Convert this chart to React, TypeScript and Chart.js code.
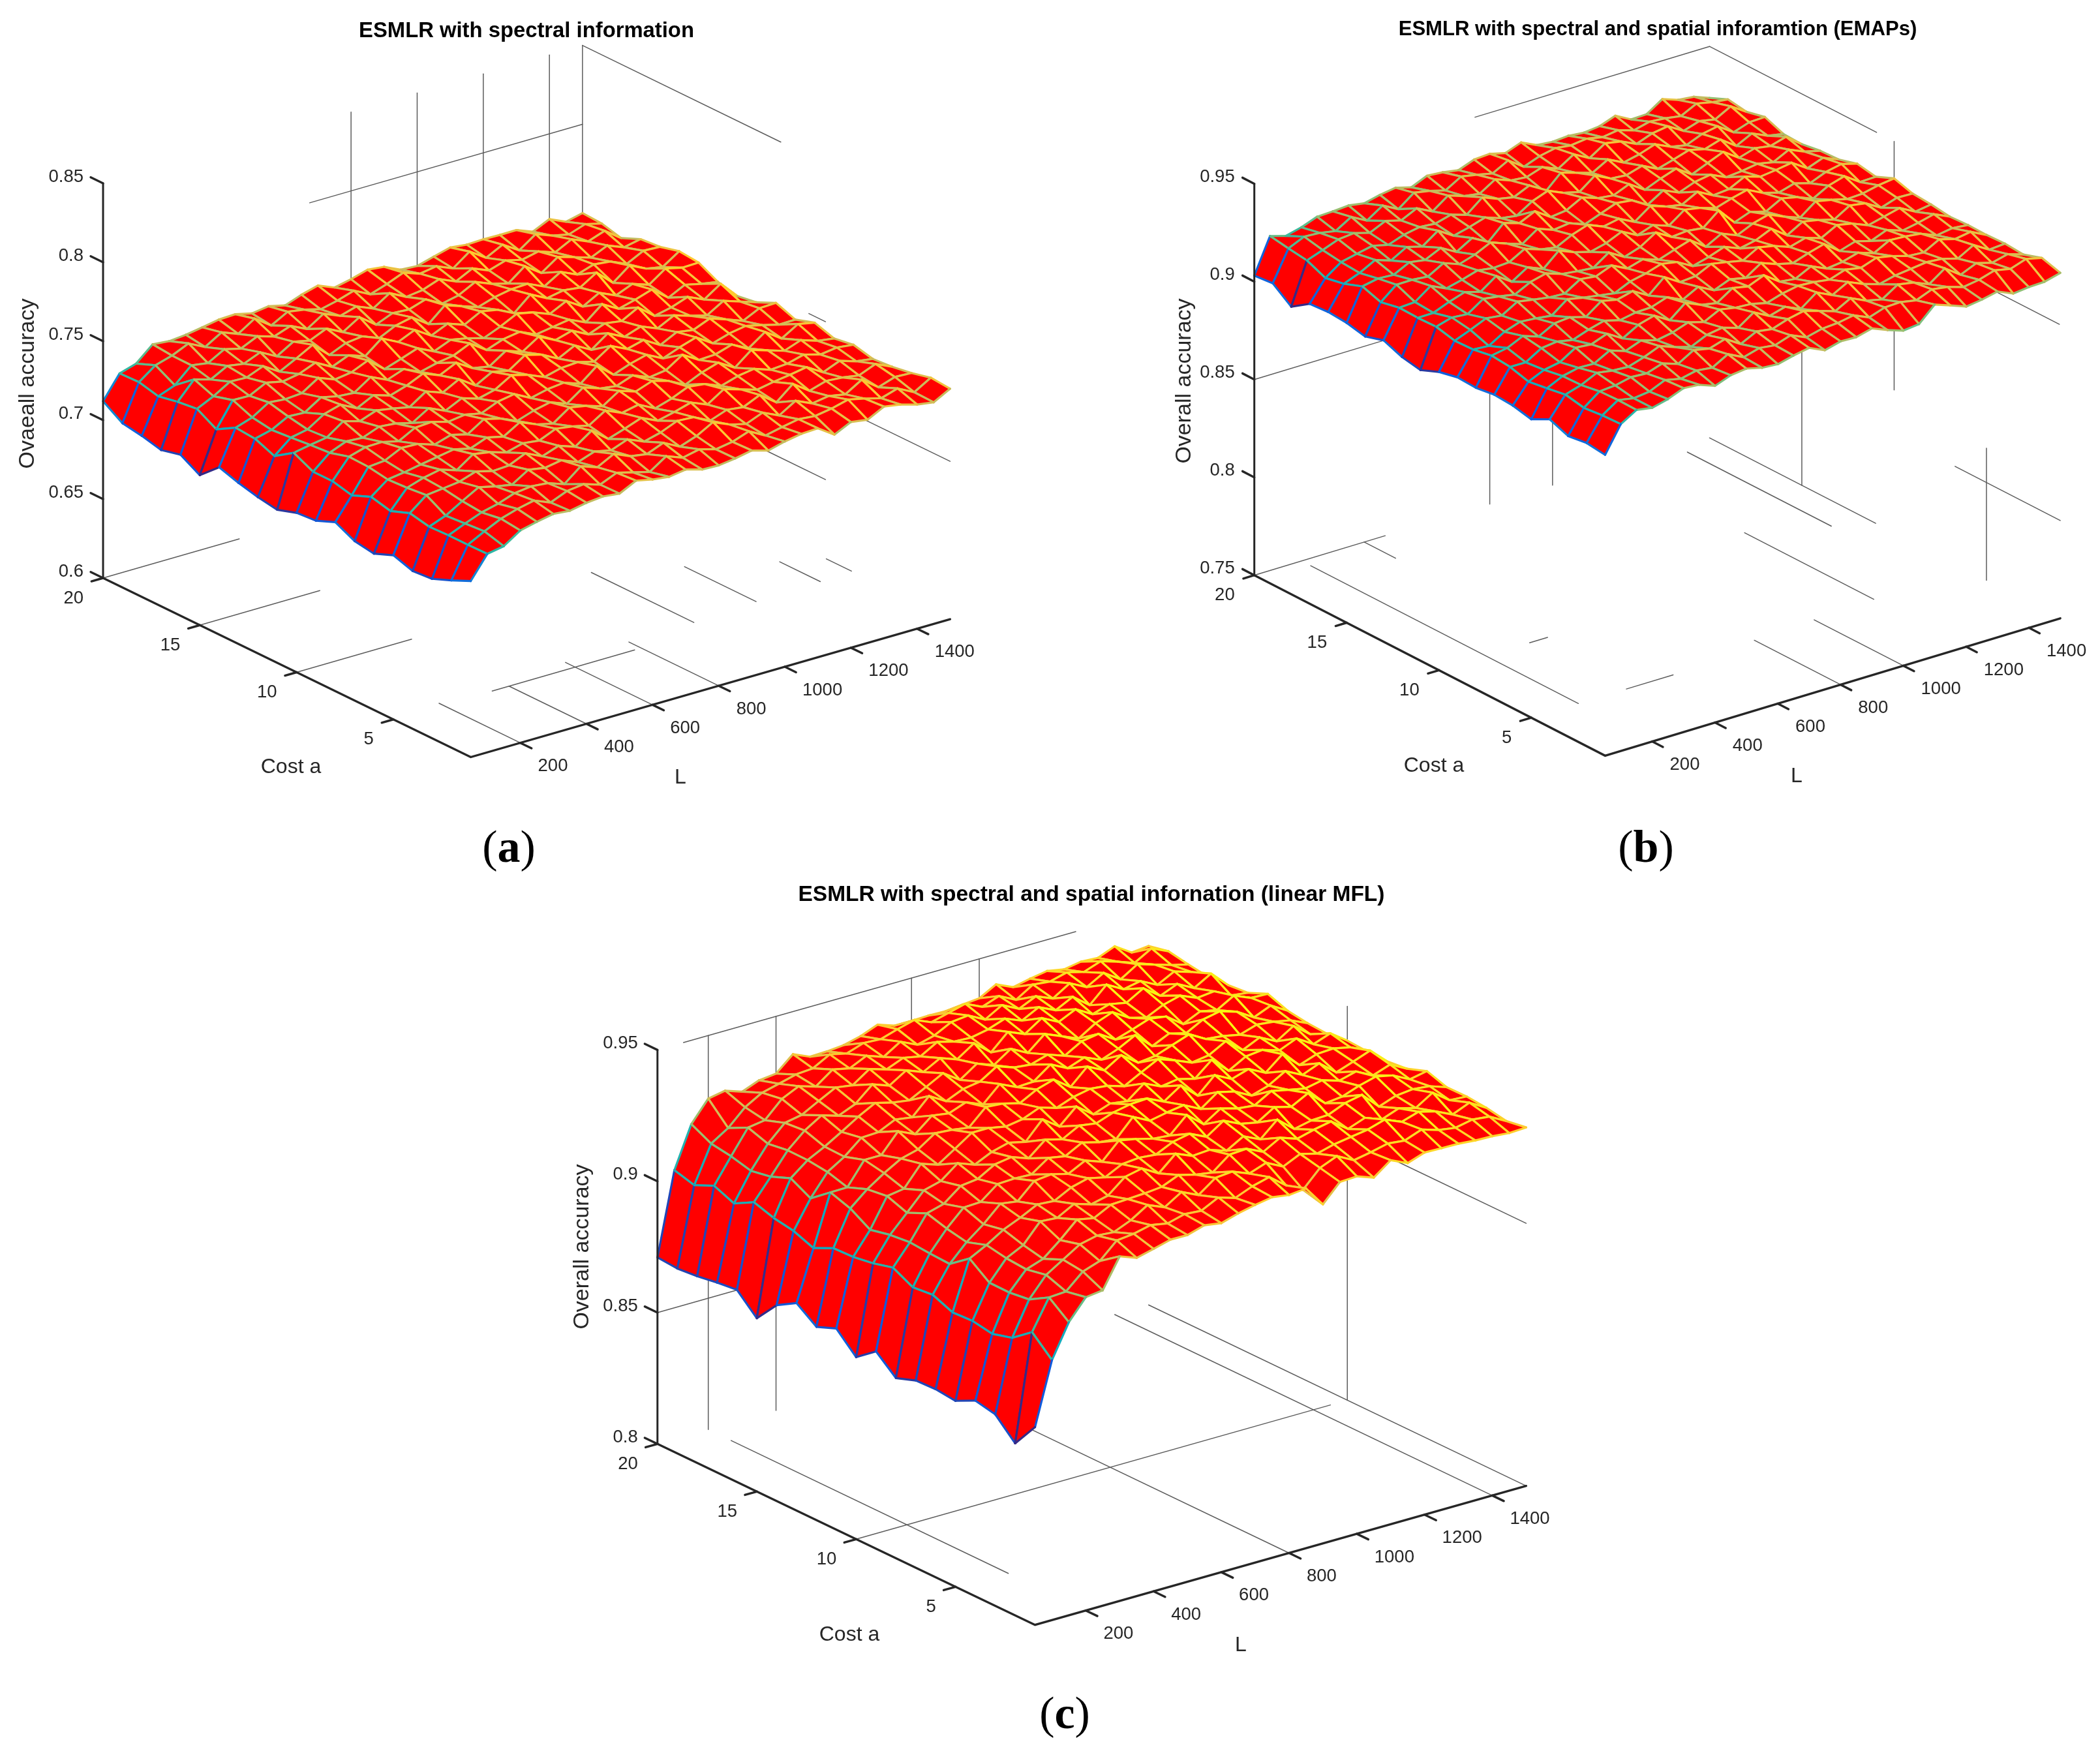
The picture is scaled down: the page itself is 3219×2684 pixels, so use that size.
import { useEffect, useRef } from 'react'
import { Chart, registerables } from 'chart.js'

Chart.register(...registerables);

// cost a runs across each row, L runs down the rows; accuracy is stored x 10000
const costValues = [20, 19, 18, 17, 16, 15, 14, 13, 12, 11, 10, 9, 8, 7, 6, 5, 4, 3, 2, 1];
const lValues = [50, 100, 150, 200, 250, 300, 350, 400, 450, 500, 550, 600, 650, 700, 750, 800, 850, 900, 950, 1000, 1050, 1100, 1150, 1200, 1250, 1300, 1350, 1400, 1450, 1500];
const costTicks = [20, 15, 10, 5];
const lTicks = [200, 400, 600, 800, 1000, 1200, 1400];

const accuracyA = [
  [7120, 7040, 7020, 6990, 7020, 6950, 7060, 7020, 6990, 6970, 7010, 7020, 7070, 7010, 6990, 7040, 7000, 7010, 7060, 7115],
  [7266, 7270, 7240, 7265, 7280, 7210, 7280, 7270, 7220, 7300, 7240, 7240, 7210, 7260, 7230, 7276, 7250, 7255, 7255, 7257],
  [7298, 7347, 7280, 7377, 7330, 7365, 7315, 7296, 7307, 7320, 7330, 7365, 7360, 7340, 7347, 7360, 7290, 7300, 7310, 7276],
  [7390, 7378, 7376, 7346, 7392, 7362, 7380, 7351, 7328, 7337, 7372, 7395, 7370, 7355, 7380, 7372, 7352, 7340, 7360, 7345],
  [7380, 7425, 7360, 7402, 7388, 7415, 7370, 7345, 7395, 7410, 7365, 7398, 7420, 7375, 7402, 7385, 7410, 7365, 7392, 7370],
  [7390, 7372, 7418, 7385, 7430, 7392, 7378, 7412, 7425, 7380, 7405, 7372, 7415, 7392, 7368, 7420, 7385, 7402, 7415, 7390],
  [7407, 7435, 7392, 7428, 7365, 7410, 7445, 7388, 7372, 7418, 7395, 7428, 7380, 7410, 7440, 7392, 7365, 7415, 7372, 7380],
  [7426, 7395, 7440, 7372, 7418, 7452, 7405, 7380, 7425, 7400, 7368, 7435, 7412, 7385, 7422, 7398, 7430, 7405, 7415, 7400],
  [7430, 7462, 7408, 7435, 7475, 7395, 7420, 7450, 7392, 7378, 7432, 7405, 7385, 7425, 7390, 7445, 7412, 7368, 7428, 7410],
  [7405, 7388, 7445, 7412, 7380, 7438, 7465, 7402, 7425, 7448, 7385, 7420, 7452, 7400, 7418, 7395, 7430, 7452, 7395, 7398],
  [7420, 7445, 7395, 7458, 7425, 7402, 7380, 7440, 7472, 7410, 7435, 7398, 7425, 7462, 7405, 7432, 7388, 7415, 7440, 7450],
  [7395, 7428, 7462, 7405, 7438, 7485, 7415, 7392, 7430, 7465, 7402, 7442, 7380, 7418, 7450, 7395, 7425, 7470, 7412, 7427],
  [7433, 7400, 7418, 7470, 7395, 7432, 7452, 7418, 7480, 7395, 7428, 7460, 7415, 7392, 7435, 7468, 7402, 7425, 7385, 7414],
  [7461, 7425, 7448, 7392, 7445, 7478, 7402, 7435, 7415, 7452, 7490, 7405, 7438, 7465, 7410, 7385, 7442, 7408, 7455, 7430],
  [7418, 7458, 7405, 7435, 7468, 7412, 7445, 7482, 7395, 7428, 7462, 7430, 7398, 7445, 7475, 7420, 7398, 7450, 7415, 7400],
  [7441, 7405, 7472, 7428, 7395, 7458, 7425, 7410, 7465, 7498, 7418, 7442, 7472, 7412, 7430, 7458, 7425, 7395, 7438, 7396],
  [7471, 7440, 7418, 7462, 7485, 7420, 7395, 7448, 7428, 7470, 7445, 7405, 7435, 7480, 7452, 7410, 7468, 7432, 7408, 7410],
  [7459, 7482, 7432, 7405, 7448, 7475, 7438, 7465, 7495, 7415, 7452, 7488, 7420, 7445, 7398, 7435, 7462, 7490, 7425, 7430],
  [7411, 7445, 7470, 7428, 7412, 7455, 7490, 7418, 7442, 7468, 7425, 7402, 7458, 7482, 7430, 7465, 7410, 7445, 7462, 7400],
  [7404, 7462, 7425, 7482, 7445, 7402, 7468, 7435, 7472, 7410, 7495, 7440, 7415, 7452, 7475, 7422, 7448, 7418, 7405, 7427],
  [7433, 7418, 7478, 7440, 7465, 7492, 7428, 7452, 7418, 7485, 7445, 7468, 7430, 7398, 7462, 7490, 7435, 7460, 7428, 7445],
  [7461, 7495, 7435, 7412, 7470, 7438, 7480, 7405, 7458, 7432, 7472, 7415, 7498, 7445, 7420, 7458, 7482, 7412, 7448, 7450],
  [7449, 7425, 7468, 7492, 7422, 7458, 7415, 7490, 7442, 7468, 7410, 7455, 7435, 7478, 7452, 7425, 7405, 7475, 7438, 7380],
  [7453, 7478, 7442, 7418, 7485, 7445, 7472, 7430, 7498, 7425, 7462, 7488, 7440, 7415, 7468, 7445, 7492, 7428, 7455, 7430],
  [7450, 7412, 7465, 7490, 7438, 7510, 7425, 7458, 7415, 7478, 7445, 7420, 7472, 7498, 7432, 7460, 7418, 7445, 7482, 7414],
  [7451, 7485, 7428, 7458, 7472, 7415, 7468, 7492, 7438, 7445, 7488, 7452, 7418, 7465, 7440, 7478, 7450, 7425, 7458, 7467],
  [7411, 7445, 7482, 7425, 7460, 7495, 7432, 7410, 7475, 7418, 7452, 7470, 7492, 7432, 7468, 7415, 7442, 7488, 7430, 7450],
  [7460, 7422, 7438, 7472, 7415, 7445, 7505, 7462, 7428, 7480, 7412, 7445, 7420, 7470, 7438, 7458, 7425, 7410, 7462, 7420],
  [7413, 7458, 7475, 7430, 7468, 7425, 7480, 7438, 7498, 7445, 7462, 7418, 7482, 7435, 7452, 7425, 7468, 7445, 7408, 7404],
  [7438, 7431, 7399, 7452, 7463, 7495, 7483, 7420, 7390, 7410, 7466, 7420, 7460, 7420, 7440, 7410, 7420, 7440, 7470, 7460],
];

const accuracyB = [
  [9031, 9040, 8969, 9032, 9039, 9032, 9011, 9040, 9003, 8985, 9024, 9045, 9040, 9053, 9046, 9025, 9073, 9036, 9049, 9037],
  [9209, 9194, 9181, 9140, 9159, 9194, 9162, 9182, 9179, 9182, 9159, 9163, 9180, 9171, 9144, 9159, 9175, 9156, 9166, 9170],
  [9185, 9230, 9210, 9197, 9190, 9210, 9227, 9187, 9180, 9205, 9190, 9157, 9195, 9170, 9180, 9197, 9200, 9216, 9220, 9218],
  [9205, 9225, 9240, 9215, 9232, 9205, 9228, 9245, 9212, 9198, 9225, 9205, 9232, 9218, 9195, 9215, 9238, 9222, 9205, 9205],
  [9235, 9210, 9248, 9232, 9205, 9245, 9220, 9208, 9238, 9252, 9215, 9232, 9205, 9228, 9245, 9212, 9225, 9240, 9215, 9225],
  [9238, 9258, 9225, 9212, 9250, 9232, 9265, 9228, 9215, 9240, 9262, 9225, 9248, 9212, 9238, 9255, 9220, 9235, 9250, 9257],
  [9244, 9215, 9262, 9240, 9228, 9270, 9235, 9252, 9272, 9225, 9248, 9215, 9255, 9240, 9268, 9228, 9245, 9262, 9232, 9250],
  [9231, 9268, 9240, 9255, 9285, 9225, 9260, 9240, 9218, 9265, 9235, 9275, 9232, 9262, 9220, 9258, 9278, 9235, 9250, 9220],
  [9250, 9225, 9278, 9248, 9235, 9272, 9298, 9245, 9268, 9285, 9230, 9258, 9290, 9240, 9265, 9235, 9248, 9282, 9240, 9250],
  [9262, 9285, 9238, 9270, 9255, 9225, 9268, 9290, 9235, 9258, 9280, 9245, 9272, 9255, 9288, 9250, 9225, 9265, 9285, 9260],
  [9240, 9270, 9295, 9245, 9280, 9300, 9240, 9262, 9305, 9248, 9270, 9232, 9292, 9258, 9240, 9278, 9262, 9290, 9245, 9240],
  [9275, 9248, 9268, 9310, 9252, 9275, 9295, 9248, 9272, 9240, 9302, 9268, 9245, 9285, 9305, 9255, 9275, 9240, 9268, 9234],
  [9268, 9295, 9255, 9278, 9240, 9312, 9265, 9288, 9250, 9295, 9262, 9285, 9315, 9248, 9270, 9295, 9250, 9280, 9258, 9254],
  [9255, 9280, 9305, 9262, 9290, 9258, 9275, 9315, 9270, 9248, 9285, 9310, 9265, 9290, 9255, 9280, 9305, 9268, 9285, 9269],
  [9285, 9262, 9275, 9298, 9320, 9268, 9245, 9282, 9305, 9275, 9258, 9295, 9272, 9248, 9308, 9275, 9262, 9295, 9250, 9233],
  [9290, 9305, 9268, 9240, 9285, 9310, 9275, 9298, 9262, 9325, 9285, 9250, 9310, 9280, 9292, 9255, 9285, 9312, 9270, 9254],
  [9270, 9248, 9295, 9315, 9265, 9282, 9305, 9258, 9290, 9278, 9310, 9272, 9295, 9262, 9325, 9280, 9250, 9288, 9275, 9251],
  [9300, 9278, 9262, 9290, 9325, 9272, 9295, 9315, 9262, 9285, 9252, 9300, 9278, 9315, 9268, 9295, 9310, 9262, 9290, 9272],
  [9262, 9295, 9312, 9265, 9285, 9305, 9248, 9288, 9320, 9275, 9295, 9268, 9322, 9285, 9258, 9290, 9272, 9305, 9255, 9239],
  [9255, 9285, 9268, 9310, 9278, 9252, 9298, 9272, 9305, 9340, 9262, 9285, 9305, 9265, 9298, 9278, 9315, 9268, 9282, 9212],
  [9261, 9295, 9320, 9270, 9302, 9285, 9262, 9315, 9280, 9255, 9298, 9320, 9275, 9292, 9262, 9305, 9280, 9250, 9285, 9221],
  [9253, 9278, 9305, 9288, 9262, 9312, 9292, 9272, 9305, 9285, 9320, 9262, 9298, 9315, 9272, 9290, 9255, 9302, 9270, 9297],
  [9262, 9290, 9268, 9315, 9285, 9258, 9305, 9280, 9325, 9262, 9285, 9308, 9272, 9255, 9295, 9318, 9275, 9288, 9302, 9268],
  [9291, 9265, 9298, 9278, 9310, 9292, 9268, 9320, 9285, 9305, 9255, 9292, 9315, 9280, 9268, 9302, 9285, 9255, 9290, 9238],
  [9248, 9285, 9310, 9262, 9290, 9325, 9275, 9295, 9262, 9288, 9315, 9270, 9298, 9258, 9310, 9278, 9295, 9312, 9265, 9249],
  [9251, 9278, 9262, 9295, 9315, 9270, 9288, 9305, 9285, 9255, 9298, 9318, 9265, 9290, 9305, 9272, 9288, 9255, 9278, 9267],
  [9304, 9265, 9288, 9310, 9258, 9295, 9272, 9318, 9262, 9298, 9278, 9305, 9285, 9262, 9295, 9315, 9265, 9290, 9302, 9232],
  [9275, 9305, 9272, 9255, 9298, 9282, 9312, 9265, 9295, 9322, 9282, 9258, 9305, 9278, 9262, 9292, 9310, 9268, 9285, 9241],
  [9267, 9288, 9315, 9282, 9262, 9305, 9278, 9295, 9312, 9268, 9300, 9285, 9262, 9298, 9275, 9305, 9262, 9288, 9312, 9244],
  [9237, 9278, 9263, 9285, 9247, 9243, 9258, 9262, 9289, 9271, 9311, 9282, 9275, 9262, 9267, 9265, 9269, 9262, 9293, 9265],
];

const accuracyC = [
  [8710, 8704, 8711, 8723, 8732, 8660, 8746, 8790, 8736, 8766, 8693, 8751, 8686, 8713, 8716, 8708, 8745, 8729, 8655, 8753],
  [9024, 9003, 9037, 9006, 9047, 9023, 9010, 8981, 9017, 9020, 9032, 9052, 9013, 9021, 8990, 8994, 8981, 9002, 9060, 8990],
  [9181, 9143, 9131, 9112, 9126, 9156, 9116, 9175, 9150, 9105, 9122, 9130, 9124, 9120, 9177, 9121, 9120, 9130, 9174, 9116],
  [9260, 9184, 9222, 9197, 9208, 9207, 9198, 9176, 9205, 9215, 9188, 9222, 9200, 9185, 9210, 9196, 9190, 9205, 9178, 9193],
  [9272, 9245, 9232, 9258, 9265, 9240, 9238, 9262, 9248, 9225, 9255, 9240, 9262, 9235, 9250, 9228, 9212, 9245, 9236, 9201],
  [9250, 9282, 9295, 9270, 9305, 9278, 9292, 9262, 9285, 9302, 9272, 9290, 9265, 9295, 9278, 9300, 9265, 9285, 9258, 9312],
  [9275, 9298, 9325, 9305, 9285, 9318, 9295, 9335, 9302, 9280, 9322, 9298, 9315, 9285, 9310, 9295, 9325, 9300, 9318, 9288],
  [9282, 9315, 9305, 9338, 9312, 9352, 9325, 9305, 9345, 9322, 9298, 9335, 9318, 9345, 9305, 9330, 9312, 9295, 9325, 9304],
  [9338, 9320, 9352, 9328, 9368, 9335, 9315, 9358, 9340, 9365, 9328, 9345, 9315, 9352, 9338, 9310, 9345, 9322, 9340, 9321],
  [9310, 9355, 9338, 9372, 9345, 9325, 9378, 9348, 9330, 9365, 9345, 9322, 9360, 9335, 9355, 9325, 9348, 9362, 9328, 9320],
  [9312, 9340, 9368, 9352, 9385, 9358, 9340, 9372, 9390, 9352, 9330, 9375, 9348, 9368, 9340, 9378, 9352, 9335, 9345, 9339],
  [9318, 9362, 9345, 9378, 9360, 9392, 9368, 9345, 9385, 9362, 9398, 9358, 9382, 9345, 9372, 9392, 9358, 9375, 9340, 9329],
  [9334, 9358, 9385, 9365, 9395, 9348, 9378, 9405, 9368, 9388, 9352, 9392, 9365, 9408, 9378, 9355, 9385, 9345, 9372, 9348],
  [9359, 9378, 9355, 9402, 9372, 9392, 9418, 9375, 9402, 9368, 9410, 9382, 9358, 9395, 9372, 9412, 9368, 9392, 9352, 9362],
  [9337, 9395, 9372, 9385, 9415, 9368, 9395, 9378, 9422, 9392, 9362, 9405, 9425, 9378, 9402, 9385, 9358, 9398, 9378, 9373],
  [9337, 9368, 9405, 9382, 9362, 9412, 9388, 9425, 9375, 9405, 9385, 9418, 9392, 9372, 9415, 9390, 9408, 9372, 9395, 9363],
  [9339, 9385, 9412, 9395, 9422, 9378, 9408, 9392, 9435, 9398, 9375, 9422, 9405, 9432, 9385, 9368, 9412, 9395, 9345, 9370],
  [9337, 9402, 9378, 9418, 9395, 9432, 9385, 9415, 9402, 9378, 9425, 9392, 9415, 9378, 9428, 9405, 9382, 9362, 9310, 9291],
  [9344, 9372, 9415, 9392, 9438, 9405, 9422, 9388, 9442, 9412, 9395, 9435, 9382, 9420, 9398, 9375, 9418, 9392, 9375, 9358],
  [9350, 9395, 9382, 9425, 9405, 9378, 9432, 9412, 9395, 9445, 9405, 9378, 9428, 9402, 9385, 9432, 9395, 9375, 9402, 9361],
  [9385, 9362, 9412, 9395, 9435, 9418, 9392, 9445, 9402, 9422, 9388, 9438, 9412, 9395, 9425, 9378, 9412, 9392, 9368, 9338],
  [9356, 9402, 9385, 9428, 9398, 9442, 9412, 9385, 9425, 9395, 9442, 9405, 9378, 9432, 9408, 9392, 9425, 9402, 9380, 9386],
  [9370, 9395, 9425, 9378, 9418, 9402, 9435, 9415, 9448, 9405, 9382, 9425, 9398, 9418, 9442, 9395, 9378, 9412, 9395, 9357],
  [9381, 9412, 9392, 9438, 9405, 9385, 9425, 9398, 9412, 9440, 9418, 9392, 9435, 9405, 9385, 9422, 9402, 9432, 9388, 9379],
  [9369, 9395, 9428, 9402, 9442, 9415, 9378, 9432, 9405, 9388, 9425, 9445, 9402, 9418, 9392, 9435, 9378, 9405, 9412, 9377],
  [9380, 9418, 9385, 9415, 9395, 9432, 9408, 9445, 9392, 9418, 9405, 9385, 9428, 9398, 9415, 9372, 9402, 9425, 9392, 9376],
  [9376, 9398, 9425, 9382, 9422, 9405, 9395, 9425, 9412, 9385, 9432, 9408, 9375, 9415, 9432, 9395, 9385, 9408, 9382, 9370],
  [9402, 9375, 9405, 9415, 9388, 9412, 9432, 9385, 9405, 9425, 9392, 9412, 9398, 9382, 9418, 9402, 9425, 9378, 9395, 9368],
  [9360, 9412, 9385, 9395, 9425, 9378, 9405, 9412, 9392, 9375, 9415, 9398, 9422, 9405, 9385, 9395, 9378, 9405, 9388, 9362],
  [9367, 9383, 9369, 9358, 9363, 9370, 9402, 9374, 9363, 9358, 9369, 9364, 9363, 9371, 9398, 9373, 9374, 9367, 9353, 9365],
];

// the pieces of grid that show in the picture: [a, L, z, a, L, z]
const gridA = [
  [20, 50, 0.6, 20, 462, 0.6], [15, 50, 0.6, 15, 413, 0.6], [10, 50, 0.6, 10, 398, 0.6], [5, 349, 0.6, 5, 780, 0.6],
  [1, 200, 0.6, 5.2, 200, 0.6], [1, 400, 0.6, 5, 400, 0.6], [1, 600, 0.6, 5.5, 600, 0.6], [1, 800, 0.6, 5.64, 800, 0.6],
  [5.7, 1000, 0.6, 11, 1000, 0.6], [5.9, 1200, 0.6, 9.6, 1200, 0.6], [6, 1400, 0.6, 8.1, 1400, 0.6], [6.1, 1500, 0.6, 7.4, 1500, 0.6],
  [7.44, 1500, 0.75, 8.3, 1500, 0.75], [1, 1500, 0.7, 5.4, 1500, 0.7], [7.44, 1500, 0.65, 10.56, 1500, 0.65],
  [20, 1500, 0.85, 9.75, 1500, 0.85], [20, 1500, 0.8, 20, 675, 0.8],
  [20, 800, 0.72, 20, 800, 0.85], [20, 1000, 0.72, 20, 1000, 0.85], [20, 1200, 0.72, 20, 1200, 0.85], [20, 1400, 0.72, 20, 1400, 0.85], [20, 1500, 0.72, 20, 1500, 0.85],
];
const gridB = [
  [20, 50, 0.75, 20, 467, 0.75], [18.3, 400, 0.75, 20, 400, 0.75], [5, 200, 0.75, 19.5, 200, 0.75],
  [10, 339, 0.75, 10, 396, 0.75], [5, 353, 0.75, 5, 502, 0.75], [6, 1200, 0.75, 13, 1200, 0.75],
  [1, 1000, 0.75, 5.83, 1000, 0.75], [1, 800, 0.75, 5.67, 800, 0.75], [11.7, 1400, 0.75, 19.5, 1400, 0.75], [11, 1500, 0.75, 20, 1500, 0.75],
  [1, 1500, 0.8, 6.7, 1500, 0.8], [1.05, 1500, 0.9, 4.4, 1500, 0.9], [20, 1500, 0.95, 10.95, 1500, 0.95],
  [20, 753, 0.95, 20, 1500, 0.95], [20, 50, 0.85, 20, 462, 0.85],
  [5, 1500, 0.75, 5, 1500, 0.8175], [10, 1500, 0.823, 10, 1500, 0.95], [15, 1500, 0.75, 15, 1500, 0.9],
  [20, 800, 0.75, 20, 800, 0.86], [20, 1000, 0.75, 20, 1000, 0.86],
];
const gridC = [
  [10, 50, 0.8, 10, 1450, 0.8], [4.9, 200, 0.8, 18.85, 200, 0.8], [1, 800, 0.8, 15, 800, 0.8], [1, 1400, 0.8, 20, 1400, 0.8],
  [1, 1500, 0.8, 20, 1500, 0.8], [1, 1500, 0.9, 7.55, 1500, 0.9], [20, 127, 0.95, 20, 1285, 0.95], [20, 50, 0.85, 20, 300, 0.85],
  [10, 1500, 0.8, 10, 1500, 0.95], [20, 200, 0.8, 20, 200, 0.95], [20, 400, 0.8, 20, 400, 0.95], [20, 800, 0.85, 20, 800, 0.95], [20, 1000, 0.85, 20, 1000, 0.95],
];

const panels = [
  {
    id: 'a', title: 'ESMLR with spectral information', titleSize: 32.8, zLabel: 'Ovaeall accuracy',
    rows: accuracyA, grid: gridA, zTicks: ['0.6', '0.65', '0.7', '0.75', '0.8', '0.85'], zTop: 0.85,
    box: { left: 0, top: 0, width: 1610, height: 1260 },
    view: { x0: 158, y0: 886, ax: 29.66, ay: 14.45, lx: 25.34, ly: -7.29, zMin: 0.6, zPx: 2420 },
    colorRange: [0.695, 0.757],
    titleAt: [807, 48], costAt: [446, 1176], lAt: [1043, 1192], zAt: [43, 588],
  },
  {
    id: 'b', title: 'ESMLR with spectral and spatial inforamtion (EMAPs)', titleSize: 31.1, zLabel: 'Overall accuracy',
    rows: accuracyB, grid: gridB, zTicks: ['0.75', '0.8', '0.85', '0.9', '0.95'], zTop: 0.95,
    box: { left: 1610, top: 0, width: 1609, height: 1260 },
    view: { x0: 1922.7, y0: 881.7, ax: 28.3, ay: 14.56, lx: 24.06, ly: -7.26, zMin: 0.75, zPx: 3000 },
    colorRange: [0.897, 0.938],
    titleAt: [2541, 45], costAt: [2198, 1174], lAt: [2754, 1190], zAt: [1816, 584],
  },
  {
    id: 'c', title: 'ESMLR with spectral and spatial infornation (linear MFL)', titleSize: 33.5, zLabel: 'Overall accuracy',
    rows: accuracyC, grid: gridC, zTicks: ['0.8', '0.85', '0.9', '0.95'], zTop: 0.95,
    box: { left: 800, top: 1340, width: 1620, height: 1240 },
    view: { x0: 1007.8, y0: 2213.3, ax: 30.46, ay: 14.6, lx: 25.96, ly: -7.345, zMin: 0.8, zPx: 4026 },
    colorRange: [0.8655, 0.945],
    titleAt: [1673, 1372], costAt: [1302, 2506], lAt: [1902, 2522], zAt: [893, 1911],
  },
];

const parula = [[53, 42, 135], [15, 92, 221], [20, 129, 214], [6, 164, 202], [46, 183, 164], [135, 191, 119], [209, 187, 89], [254, 200, 50], [249, 251, 14]];
const axisColor = '#262626';

function parulaColor(t: number): string {
  const v = Math.min(0.9999, Math.max(0, t)) * (parula.length - 1);
  const i = Math.floor(v);
  const f = v - i;
  const c = parula[i].map((p, j) => Math.round(p + (parula[i + 1][j] - p) * f));
  return `rgb(${c[0]},${c[1]},${c[2]})`;
}

function project(view: any, a: number, L: number, z: number) {
  return {
    x: view.x0 + (20 - a) * view.ax + ((L - 50) / 50) * view.lx,
    y: view.y0 + (20 - a) * view.ay + ((L - 50) / 50) * view.ly - (z - view.zMin) * view.zPx,
  };
}

function lineSet(points: { x: number; y: number }[], color: string, width: number) {
  return { data: points, showLine: true, fill: false, borderColor: color, borderWidth: width, pointRadius: 0, borderCapStyle: 'round' };
}

function buildDatasets(panel: any) {
  const { view, rows, grid, zTicks, zTop } = panel;
  const [cMin, cMax] = panel.colorRange;
  const zMin = view.zMin;
  const out: any[] = [];

  // index 0 is painted last, so axes come first and the mesh runs front to back
  out.push(lineSet([project(view, 20, 50, zMin), project(view, 1, 50, zMin), project(view, 1, 1500, zMin)], axisColor, 3.4));
  out.push(lineSet([project(view, 20, 50, zMin), project(view, 20, 50, zTop)], axisColor, 3));
  costTicks.forEach(a => out.push(lineSet([project(view, a, 50, zMin), project(view, a, 15, zMin)], axisColor, 3.4)));
  lTicks.forEach(L => out.push(lineSet([project(view, 1, L, zMin), project(view, 0.42, L, zMin)], axisColor, 3.4)));
  zTicks.forEach((t: string) => out.push(lineSet([project(view, 20, 50, Number(t)), project(view, 20.64, 50, Number(t))], axisColor, 3.4)));

  const colorOf = (k: number, i: number) => parulaColor((rows[k][i] / 10000 - cMin) / (cMax - cMin));
  const vertex = (k: number, i: number) => project(view, costValues[i], lValues[k], rows[k][i] / 10000);
  for (let k = 0; k < lValues.length - 1; k++) {
    for (let i = costValues.length - 2; i >= 0; i--) {
      const corners = [vertex(k, i), vertex(k + 1, i), vertex(k + 1, i + 1), vertex(k, i + 1), vertex(k, i)];
      const edgeColors = [colorOf(k, i), colorOf(k + 1, i), colorOf(k, i + 1), colorOf(k, i)];
      // segment styles split a filled line into pieces, so edges and face are two datasets
      out.push({
        data: corners,
        showLine: true,
        fill: false,
        borderColor: edgeColors[0],
        borderWidth: 3.2,
        borderJoinStyle: 'round',
        borderCapStyle: 'round',
        pointRadius: 0,
        segment: { borderColor: (c: any) => edgeColors[c.p0DataIndex] },
      });
      out.push({
        data: corners,
        showLine: true,
        fill: 'shape',
        backgroundColor: '#ff0000',
        borderColor: '#ff0000',
        borderWidth: 0.5,
        pointRadius: 0,
      });
    }
  }

  grid.forEach((g: number[]) => {
    out.push(lineSet([project(view, g[0], g[1], g[2]), project(view, g[3], g[4], g[5])], '#5c5c5c', 1.5));
  });
  return out;
}

const panelText = {
  id: 'panelText',
  afterDraw(chart: any, _args: any, opts: any) {
    const { panel } = opts;
    const { view, zTicks } = panel;
    const { ctx, scales } = chart;
    const px = (x: number) => scales.x.getPixelForValue(x);
    const py = (y: number) => scales.y.getPixelForValue(y);
    const put = (text: string, x: number, y: number, align: CanvasTextAlign, font: string, color = axisColor) => {
      ctx.font = font;
      ctx.fillStyle = color;
      ctx.textAlign = align;
      ctx.textBaseline = 'middle';
      ctx.fillText(text, px(x), py(y));
    };
    const sans = '"Liberation Sans", Arial, sans-serif';
    ctx.save();
    const tickFont = `27.5px ${sans}`;
    const labelFont = `32px ${sans}`;
    zTicks.forEach((t: string) => {
      const p = project(view, 20, 50, Number(t));
      put(t, p.x - 30, p.y - 10, 'right', tickFont);
    });
    costTicks.forEach(a => {
      const p = project(view, a, 50, view.zMin);
      put(String(a), p.x - 30, p.y + 31, 'right', tickFont);
    });
    lTicks.forEach(L => {
      const p = project(view, 1, L, view.zMin);
      put(String(L), p.x + 27, p.y + 36, 'left', tickFont);
    });
    put('Cost a', panel.costAt[0], panel.costAt[1], 'center', labelFont);
    put('L', panel.lAt[0], panel.lAt[1], 'center', labelFont);
    put(panel.title, panel.titleAt[0], panel.titleAt[1], 'center', `bold ${panel.titleSize}px ${sans}`, '#000000');

    ctx.translate(px(panel.zAt[0]), py(panel.zAt[1]));
    ctx.rotate(-Math.PI / 2);
    ctx.font = `34px ${sans}`;
    ctx.fillStyle = axisColor;
    ctx.textAlign = 'center';
    ctx.textBaseline = 'middle';
    ctx.fillText(panel.zLabel, 0, 0);
    ctx.restore();
  },
};

function SurfacePanel({ panel }: { panel: any }) {
  const canvasRef = useRef<HTMLCanvasElement>(null);

  useEffect(() => {
    if (!canvasRef.current) return;
    const { box } = panel;
    const chart = new Chart(canvasRef.current, {
      type: 'scatter',
      data: { datasets: buildDatasets(panel) },
      options: {
        animation: false,
        responsive: false,
        devicePixelRatio: 1,
        events: [],
        layout: { padding: 0 },
        plugins: {
          legend: { display: false },
          tooltip: { enabled: false },
          panelText: { panel },
        },
        scales: {
          x: { type: 'linear', display: false, min: box.left, max: box.left + box.width },
          y: { type: 'linear', display: false, reverse: true, min: box.top, max: box.top + box.height },
        },
      } as any,
      plugins: [panelText],
    });
    return () => chart.destroy();
  }, [panel]);

  const { box } = panel;
  return (
    <canvas
      ref={canvasRef}
      width={box.width}
      height={box.height}
      style={{ position: 'absolute', left: box.left, top: box.top, width: box.width, height: box.height }}
    />
  );
}

const captionStyle = { position: 'absolute', fontFamily: '"Liberation Serif", serif', fontSize: 70, lineHeight: '80px', color: '#000', transform: 'translate(-50%, -50%)' } as const;

export default function App() {
  return (
    <div style={{ position: 'absolute', left: 0, top: 0, width: 3219, height: 2684, background: '#fff', overflow: 'hidden' }}>
      {panels.map(p => <SurfacePanel key={p.id} panel={p} />)}
      <div style={{ ...captionStyle, left: 780, top: 1298 }}>(<b>a</b>)</div>
      <div style={{ ...captionStyle, left: 2523, top: 1298 }}>(<b>b</b>)</div>
      <div style={{ ...captionStyle, left: 1632, top: 2626 }}>(<b>c</b>)</div>
    </div>
  );
}
